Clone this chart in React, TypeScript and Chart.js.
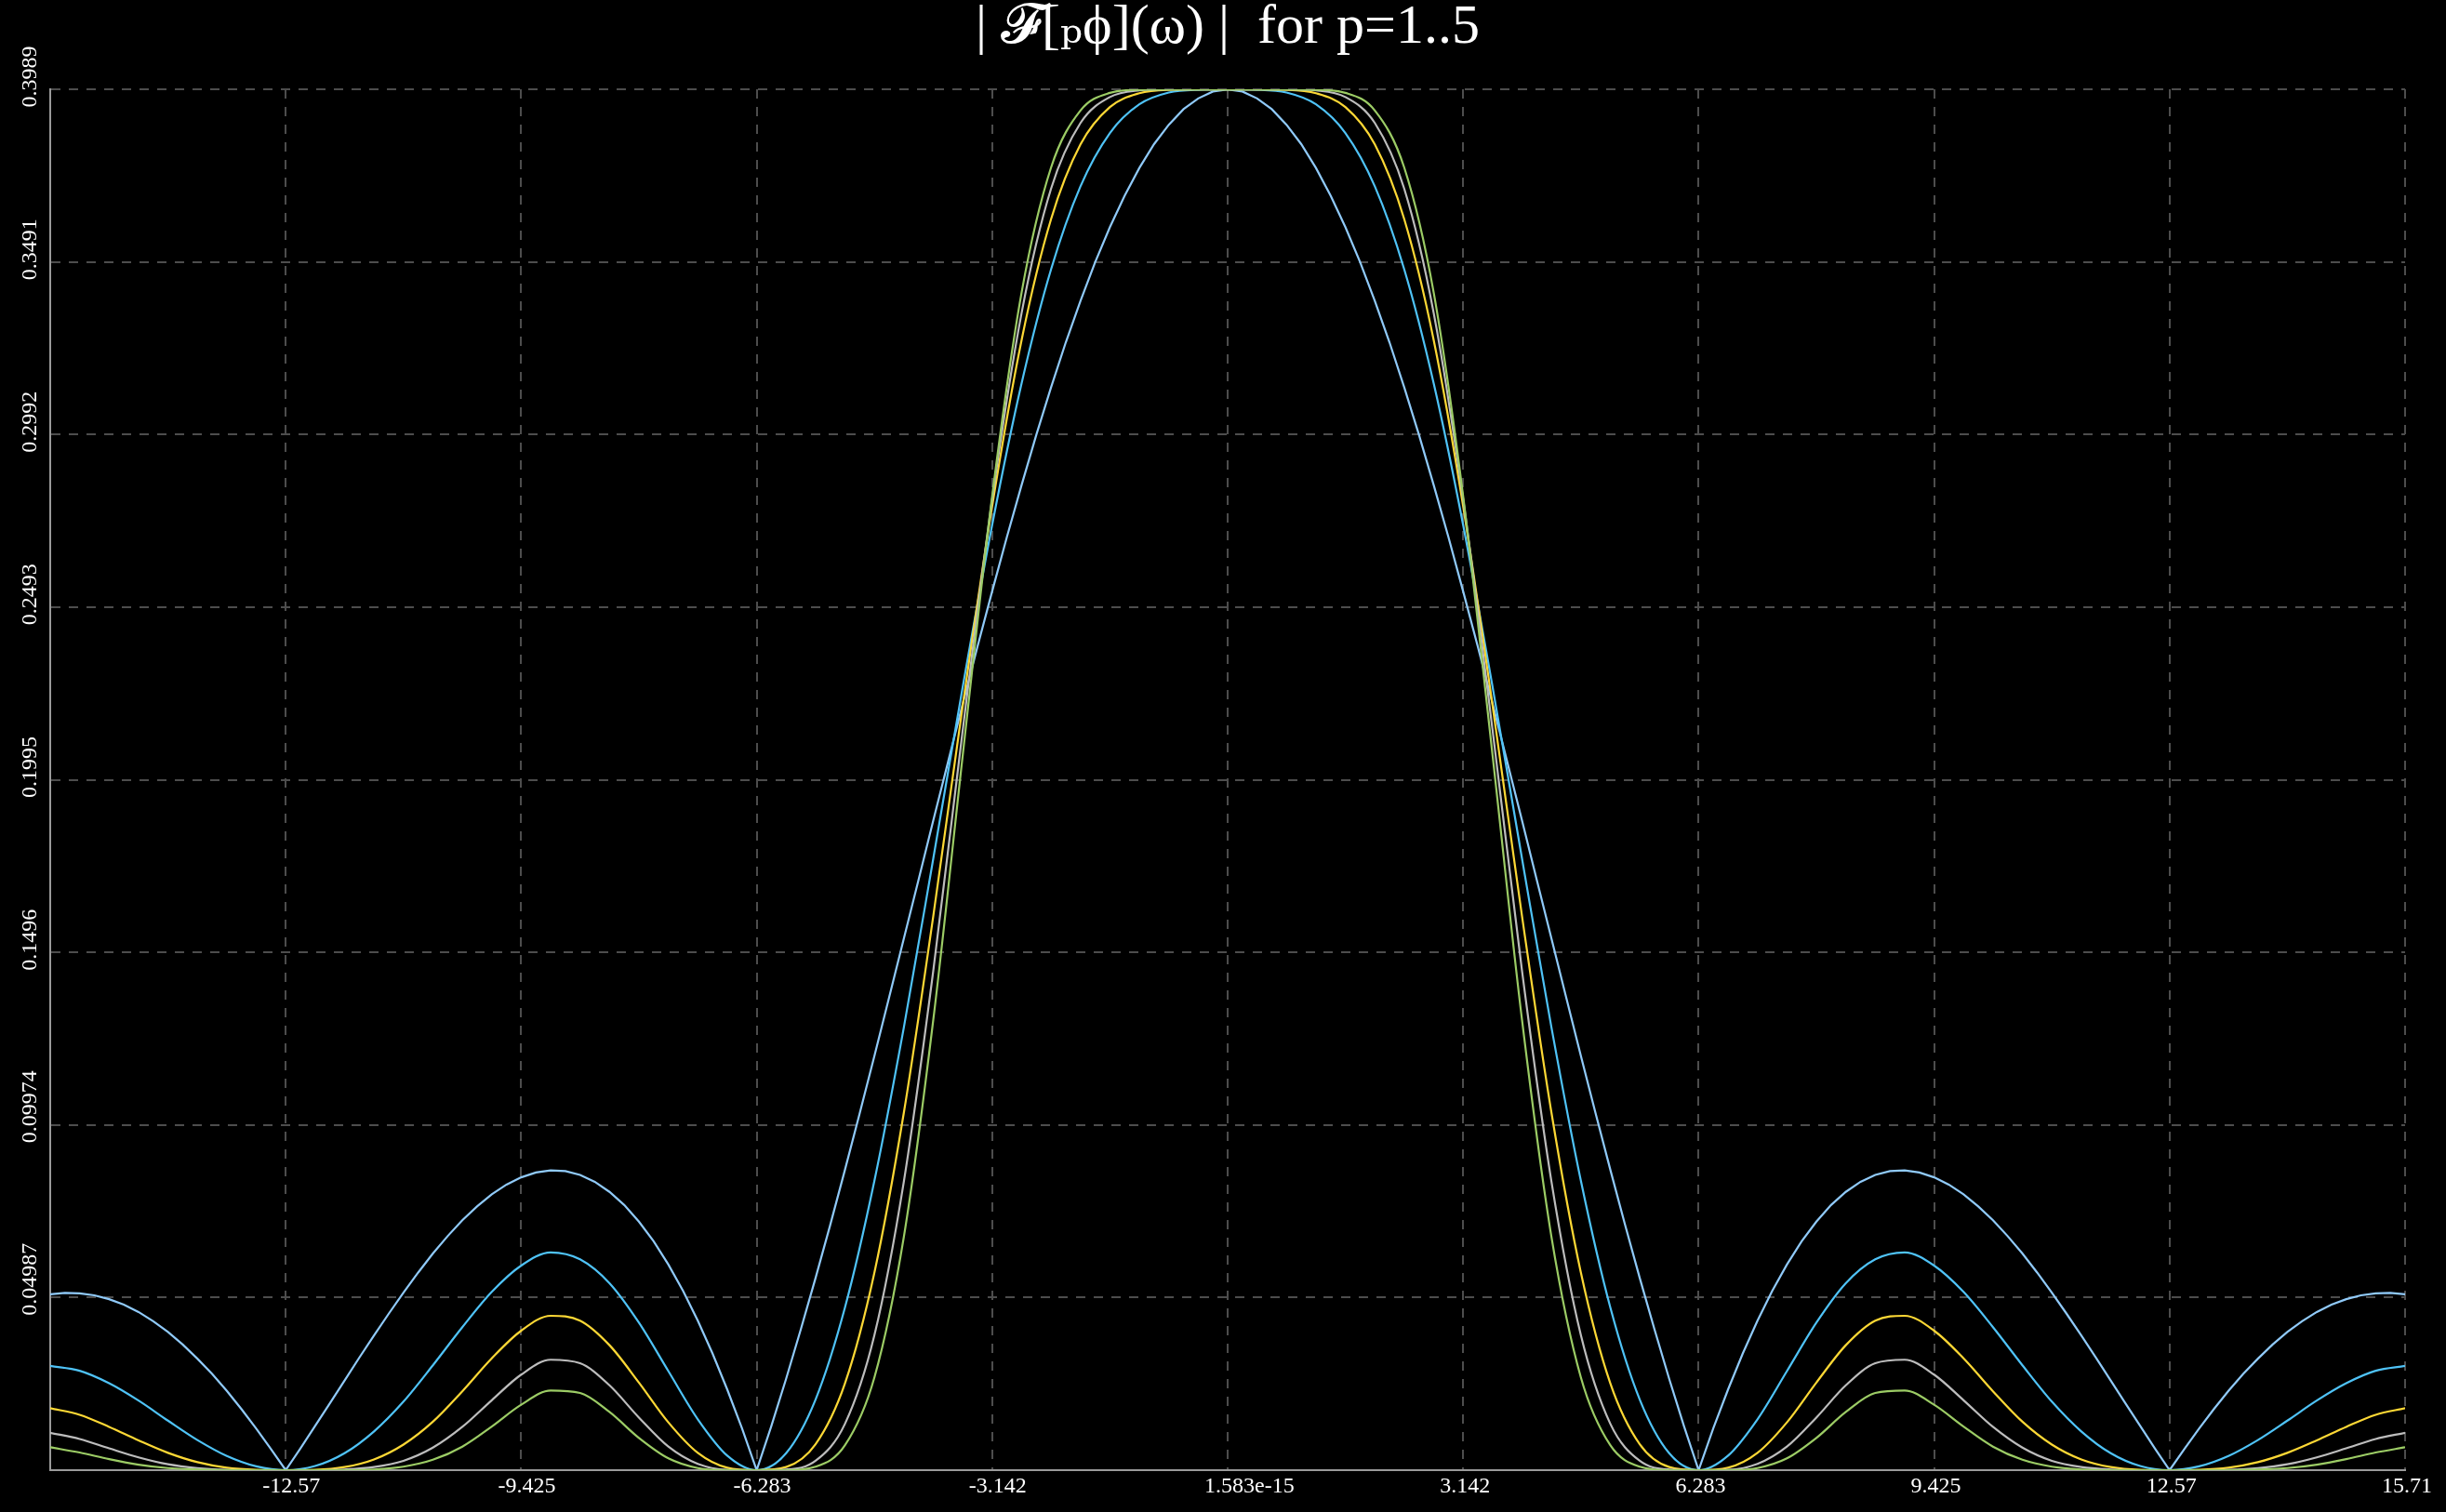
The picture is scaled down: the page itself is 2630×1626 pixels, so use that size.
import React, { useEffect, useRef } from "react";
import { Chart, registerables } from "chart.js";

Chart.register(...registerables);

// Positive half of the frequency axis, step pi/16 (the left half is the mirror image)
const OMEGA_FINE = [
  0, 0.1963, 0.3927, 0.589, 0.7854, 0.9817, 1.1781, 1.3744, 1.5708, 1.7671,
  1.9635, 2.1598, 2.3562, 2.5525, 2.7489, 2.9452, 3.1416, 3.3379, 3.5343, 3.7306,
  3.927, 4.1233, 4.3197, 4.516, 4.7124, 4.9087, 5.1051, 5.3014, 5.4978, 5.6941,
  5.8905, 6.0868, 6.2832, 6.4795, 6.6759, 6.8722, 7.0686, 7.2649, 7.4613, 7.6576,
  7.854, 8.0503, 8.2467, 8.443, 8.6394, 8.8357, 9.0321, 9.2284, 9.4248, 9.6211,
  9.8175, 10.0138, 10.2102, 10.4065, 10.6029, 10.7992, 10.9956, 11.1919, 11.3883, 11.5846,
  11.781, 11.9773, 12.1737, 12.37, 12.5664, 12.7627, 12.9591, 13.1554, 13.3518, 13.5481,
  13.7445, 13.9408, 14.1372, 14.3335, 14.5299, 14.7262, 14.9226, 15.1189, 15.3153, 15.5116,
  15.708,
];
// step pi/8
const OMEGA_COARSE = OMEGA_FINE.filter((_, i) => i % 2 === 0);

// p = 1 (on OMEGA_FINE)
const P1 = [
  0.3989, 0.3983, 0.3963, 0.3932, 0.3887, 0.3831, 0.3762, 0.3682, 0.3591, 0.349,
  0.3378, 0.3258, 0.3128, 0.2991, 0.2846, 0.2696, 0.2539, 0.2379, 0.2214, 0.2046,
  0.1877, 0.1706, 0.1536, 0.1366, 0.1197, 0.1031, 0.0868, 0.0709, 0.0555, 0.0407,
  0.0264, 0.0128, 0, 0.0121, 0.0233, 0.0337, 0.0432, 0.0518, 0.0594, 0.0661,
  0.0718, 0.0766, 0.0804, 0.0833, 0.0853, 0.0864, 0.0866, 0.086, 0.0846, 0.0825,
  0.0797, 0.0762, 0.0722, 0.0676, 0.0626, 0.0571, 0.0513, 0.0452, 0.0389, 0.0325,
  0.0259, 0.0193, 0.0128, 0.0063, 0, 0.0061, 0.012, 0.0176, 0.0229, 0.0278,
  0.0322, 0.0363, 0.0399, 0.043, 0.0457, 0.0478, 0.0494, 0.0505, 0.0511, 0.0512,
  0.0508,
];
// p = 2..5 (on OMEGA_COARSE)
const P2 = [
  0.3989, 0.3988, 0.398, 0.3946, 0.3863, 0.3709, 0.3469, 0.314, 0.2731, 0.2263,
  0.1767, 0.1279, 0.0836, 0.047, 0.0204, 0.0049, 0, 0.0042, 0.0147, 0.0286,
  0.0426, 0.054, 0.0609, 0.0629, 0.0591, 0.0515, 0.0413, 0.0303, 0.0198, 0.0112,
  0.0049, 0.0012, 0, 0.0011, 0.0041, 0.0087, 0.0143, 0.0201, 0.0251, 0.0287,
  0.0301,
];
const P3 = [
  0.3989, 0.3989, 0.3988, 0.3978, 0.3938, 0.383, 0.3614, 0.3265, 0.2785, 0.2209,
  0.1601, 0.1033, 0.0571, 0.0251, 0.0075, 0.0009, 0, 0.0007, 0.005, 0.0138,
  0.0253, 0.0361, 0.0432, 0.0446, 0.0403, 0.0323, 0.0228, 0.014, 0.0074, 0.0031,
  0.0009, 0.0001, 0, 0.0001, 0.0007, 0.0023, 0.005, 0.0086, 0.0125, 0.016,
  0.0179,
];
const P4 = [
  0.3989, 0.3989, 0.3989, 0.3986, 0.3967, 0.3892, 0.3702, 0.3343, 0.2805, 0.2138,
  0.1443, 0.0834, 0.039, 0.0134, 0.0027, 0.0002, 0, 0.0001, 0.0018, 0.0068,
  0.0152, 0.0245, 0.0309, 0.0319, 0.0276, 0.0202, 0.0125, 0.0065, 0.0027, 0.0009,
  0.0002, 0, 0, 0, 0.0001, 0.0006, 0.0017, 0.0037, 0.0063, 0.009,
  0.0108,
];
const P5 = [
  0.3989, 0.3989, 0.3989, 0.3988, 0.3979, 0.3928, 0.3763, 0.3402, 0.2814, 0.2065,
  0.1301, 0.0674, 0.0268, 0.0072, 0.001, 0, 0, 0, 0.0006, 0.0034,
  0.0093, 0.0168, 0.0223, 0.023, 0.0189, 0.0126, 0.0068, 0.003, 0.001, 0.0002,
  0, 0, 0, 0, 0, 0.0002, 0.0006, 0.0016, 0.0032, 0.0051,
  0.0066,
];

const SERIES_NAMES = ["p=1", "p=2", "p=3", "p=4", "p=5"];
const SERIES_COLORS = ["#90caf9", "#4fc3f7", "#fdd835", "#bdbdbd", "#9ccc65"];

const X_MIN = -15.708;
const X_MAX = 15.708;
const X_TICKS = [-15.708, -12.5664, -9.4248, -6.2832, -3.1416, 0, 3.1416, 6.2832, 9.4248, 12.5664, 15.708];
const X_TICK_LABELS = ["", "-12.57", "-9.425", "-6.283", "-3.142", "1.583e-15", "3.142", "6.283", "9.425", "12.57", "15.71"];

const Y_MIN = 0;
const Y_MAX = 0.398942;
const Y_TICKS = [0, 0.049868, 0.099736, 0.149603, 0.199471, 0.249339, 0.299207, 0.349074, 0.398942];
const Y_TICK_LABELS = ["", "0.04987", "0.09974", "0.1496", "0.1995", "0.2493", "0.2992", "0.3491", "0.3989"];

const TITLE = "| \u{1D4D5}[\u209A\u03D5](\u03C9) |  for p=1..5";

const SERIF = "'Liberation Serif', 'DejaVu Serif', serif";

function mirrored(xs: number[], ys: number[]) {
  const pts: { x: number; y: number }[] = [];
  for (let i = xs.length - 1; i > 0; i--) pts.push({ x: -xs[i], y: ys[i] });
  for (let i = 0; i < xs.length; i++) pts.push({ x: xs[i], y: ys[i] });
  return pts;
}

export default function App() {
  const canvasRef = useRef<HTMLCanvasElement | null>(null);

  useEffect(() => {
    const canvas = canvasRef.current;
    if (!canvas) return;

    const seriesData = [
      mirrored(OMEGA_FINE, P1),
      mirrored(OMEGA_COARSE, P2),
      mirrored(OMEGA_COARSE, P3),
      mirrored(OMEGA_COARSE, P4),
      mirrored(OMEGA_COARSE, P5),
    ];

    const datasets = seriesData.map((data, i) => ({
      label: SERIES_NAMES[i],
      data,
      borderColor: SERIES_COLORS[i],
      backgroundColor: SERIES_COLORS[i],
      borderWidth: 2.2,
      pointRadius: 0,
      pointHoverRadius: 0,
      fill: false,
      tension: i === 0 ? 0 : 0.4,
      cubicInterpolationMode: i === 0 ? "default" : "monotone",
      order: 5 - i,
    }));

    const chart = new Chart(canvas, {
      type: "line",
      data: { datasets } as any,
      options: {
        animation: false,
        responsive: true,
        maintainAspectRatio: false,
        devicePixelRatio: 1,
        events: [],
        parsing: false as any,
        layout: { padding: { left: 54, right: 44, top: 0, bottom: 0 } },
        plugins: {
          legend: { display: false },
          tooltip: { enabled: false },
          title: {
            display: true,
            text: TITLE,
            color: "#ffffff",
            fullSize: false,
            font: { family: SERIF, size: 60, weight: "normal", lineHeight: 1 },
            padding: { top: 0, bottom: 36 },
          },
        },
        scales: {
          x: {
            type: "linear",
            min: X_MIN,
            max: X_MAX,
            afterBuildTicks: (scale: any) => {
              scale.ticks = X_TICKS.map((v) => ({ value: v }));
            },
            afterFit: (scale: any) => {
              scale.height = 45;
              scale.paddingLeft = 0;
              scale.paddingRight = 0;
            },
            ticks: {
              autoSkip: false,
              maxRotation: 0,
              minRotation: 0,
              align: "start",
              labelOffset: -25,
              padding: 3,
              color: "#ffffff",
              font: { family: SERIF, size: 24 },
              callback: (_v: any, i: number) => X_TICK_LABELS[i],
            },
            grid: { color: "#4d4d4d", lineWidth: 2, drawTicks: false },
            border: { display: true, color: "#9a9a9a", width: 2, dash: [10, 9] },
          },
          y: {
            type: "linear",
            min: Y_MIN,
            max: Y_MAX,
            afterBuildTicks: (scale: any) => {
              scale.ticks = Y_TICKS.map((v) => ({ value: v }));
            },
            afterFit: (scale: any) => {
              scale.width = 0;
              scale.paddingTop = 0;
              scale.paddingBottom = 0;
            },
            ticks: {
              autoSkip: false,
              minRotation: 90,
              maxRotation: 90,
              mirror: true,
              crossAlign: "near",
              labelOffset: 19.5,
              padding: -21.5,
              color: "#ffffff",
              font: { family: SERIF, size: 24 },
              callback: (_v: any, i: number) => Y_TICK_LABELS[i],
            },
            grid: { color: "#4d4d4d", lineWidth: 2, drawTicks: false },
            border: { display: true, color: "#9a9a9a", width: 2, dash: [10, 9] },
          },
        },
      } as any,
    });

    return () => chart.destroy();
  }, []);

  return (
    <div
      style={{
        position: "fixed",
        left: 0,
        top: 0,
        width: "2630px",
        height: "1626px",
        background: "#000000",
      }}
    >
      <canvas ref={canvasRef} />
    </div>
  );
}
